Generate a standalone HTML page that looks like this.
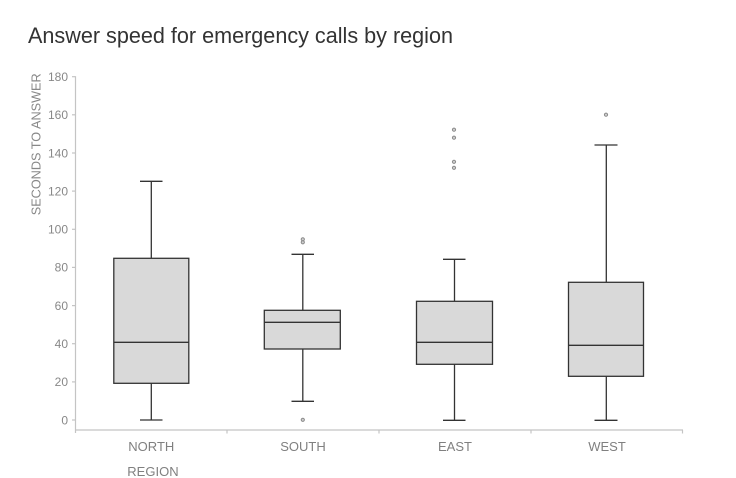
<!DOCTYPE html>
<html><head><meta charset="utf-8"><style>
html,body{margin:0;padding:0;background:#fff;}
svg{display:block;font-family:"Liberation Sans",Arial,sans-serif;}
</style></head><body>
<svg width="736" height="478" viewBox="0 0 736 478" xmlns="http://www.w3.org/2000/svg">
<text x="28" y="43" font-size="22" fill="#333" textLength="425" lengthAdjust="spacingAndGlyphs">Answer speed for emergency calls by region</text>
<text transform="translate(40.5,144.3) rotate(-90)" text-anchor="middle" font-size="12.7" fill="#888">SECONDS TO ANSWER</text>
<g stroke="#c4c4c4" stroke-width="1.2" fill="none">
<line x1="75.5" y1="76.2" x2="75.5" y2="433"/>
<line x1="75" y1="430" x2="683" y2="430"/>
<line x1="227" y1="430" x2="227" y2="433.5"/>
<line x1="379" y1="430" x2="379" y2="433.5"/>
<line x1="531" y1="430" x2="531" y2="433.5"/>
<line x1="682.5" y1="430" x2="682.5" y2="433.5"/>
<line x1="72" y1="76.7" x2="75.5" y2="76.7"/>
<line x1="72" y1="114.8" x2="75.5" y2="114.8"/>
<line x1="72" y1="153.0" x2="75.5" y2="153.0"/>
<line x1="72" y1="191.1" x2="75.5" y2="191.1"/>
<line x1="72" y1="229.3" x2="75.5" y2="229.3"/>
<line x1="72" y1="267.4" x2="75.5" y2="267.4"/>
<line x1="72" y1="305.6" x2="75.5" y2="305.6"/>
<line x1="72" y1="343.7" x2="75.5" y2="343.7"/>
<line x1="72" y1="381.9" x2="75.5" y2="381.9"/>
<line x1="72" y1="420" x2="75.5" y2="420"/>
</g>
<g font-size="12" fill="#888" text-anchor="end">
<text x="68" y="81">180</text>
<text x="68" y="119.1">160</text>
<text x="68" y="157.3">140</text>
<text x="68" y="195.4">120</text>
<text x="68" y="233.6">100</text>
<text x="68" y="271.7">80</text>
<text x="68" y="309.9">60</text>
<text x="68" y="348">40</text>
<text x="68" y="386.2">20</text>
<text x="68" y="424.3">0</text>
</g>
<g font-size="13" fill="#808080" text-anchor="middle">
<text x="151.3" y="451">NORTH</text>
<text x="303" y="451">SOUTH</text>
<text x="455" y="451">EAST</text>
<text x="607" y="451">WEST</text>
</g>
<text x="127.3" y="476" font-size="13" fill="#808080">REGION</text>
<g stroke="#333" stroke-width="1.3" fill="#d9d9d9">
<line x1="151.3" y1="181.3" x2="151.3" y2="258.3"/>
<line x1="151.3" y1="383.3" x2="151.3" y2="420"/>
<line x1="140" y1="181.3" x2="162.5" y2="181.3"/>
<line x1="140" y1="420" x2="162.5" y2="420"/>
<rect x="113.8" y="258.3" width="75" height="125"/>
<line x1="113.8" y1="342.3" x2="188.8" y2="342.3"/>
<line x1="302.8" y1="254.3" x2="302.8" y2="310.3"/>
<line x1="302.8" y1="349" x2="302.8" y2="401.3"/>
<line x1="291.5" y1="254.3" x2="314" y2="254.3"/>
<line x1="291.5" y1="401.3" x2="314" y2="401.3"/>
<rect x="264.3" y="310.3" width="76" height="38.7"/>
<line x1="264.3" y1="322.3" x2="340.3" y2="322.3"/>
<line x1="454.5" y1="259.3" x2="454.5" y2="301.3"/>
<line x1="454.5" y1="364.3" x2="454.5" y2="420.3"/>
<line x1="443" y1="259.3" x2="465.5" y2="259.3"/>
<line x1="443" y1="420.3" x2="465.5" y2="420.3"/>
<rect x="416.5" y="301.3" width="76" height="63"/>
<line x1="416.5" y1="342.3" x2="492.5" y2="342.3"/>
<line x1="606.3" y1="145" x2="606.3" y2="282.3"/>
<line x1="606.3" y1="376.3" x2="606.3" y2="420.3"/>
<line x1="594.5" y1="145" x2="617.5" y2="145"/>
<line x1="594.5" y1="420.3" x2="617.5" y2="420.3"/>
<rect x="568.5" y="282.3" width="75" height="94"/>
<line x1="568.5" y1="345.3" x2="643.5" y2="345.3"/>
</g>
<g stroke="#8a8a8a" stroke-width="1" fill="#d0d0d0">
<circle cx="302.8" cy="239.3" r="1.6"/>
<circle cx="302.8" cy="242.3" r="1.6"/>
<circle cx="302.8" cy="419.8" r="1.6"/>
<circle cx="454" cy="129.7" r="1.6"/>
<circle cx="454" cy="137.7" r="1.6"/>
<circle cx="454" cy="161.8" r="1.6"/>
<circle cx="454" cy="167.8" r="1.6"/>
<circle cx="606" cy="114.7" r="1.6"/>
</g>
</svg>
</body></html>
